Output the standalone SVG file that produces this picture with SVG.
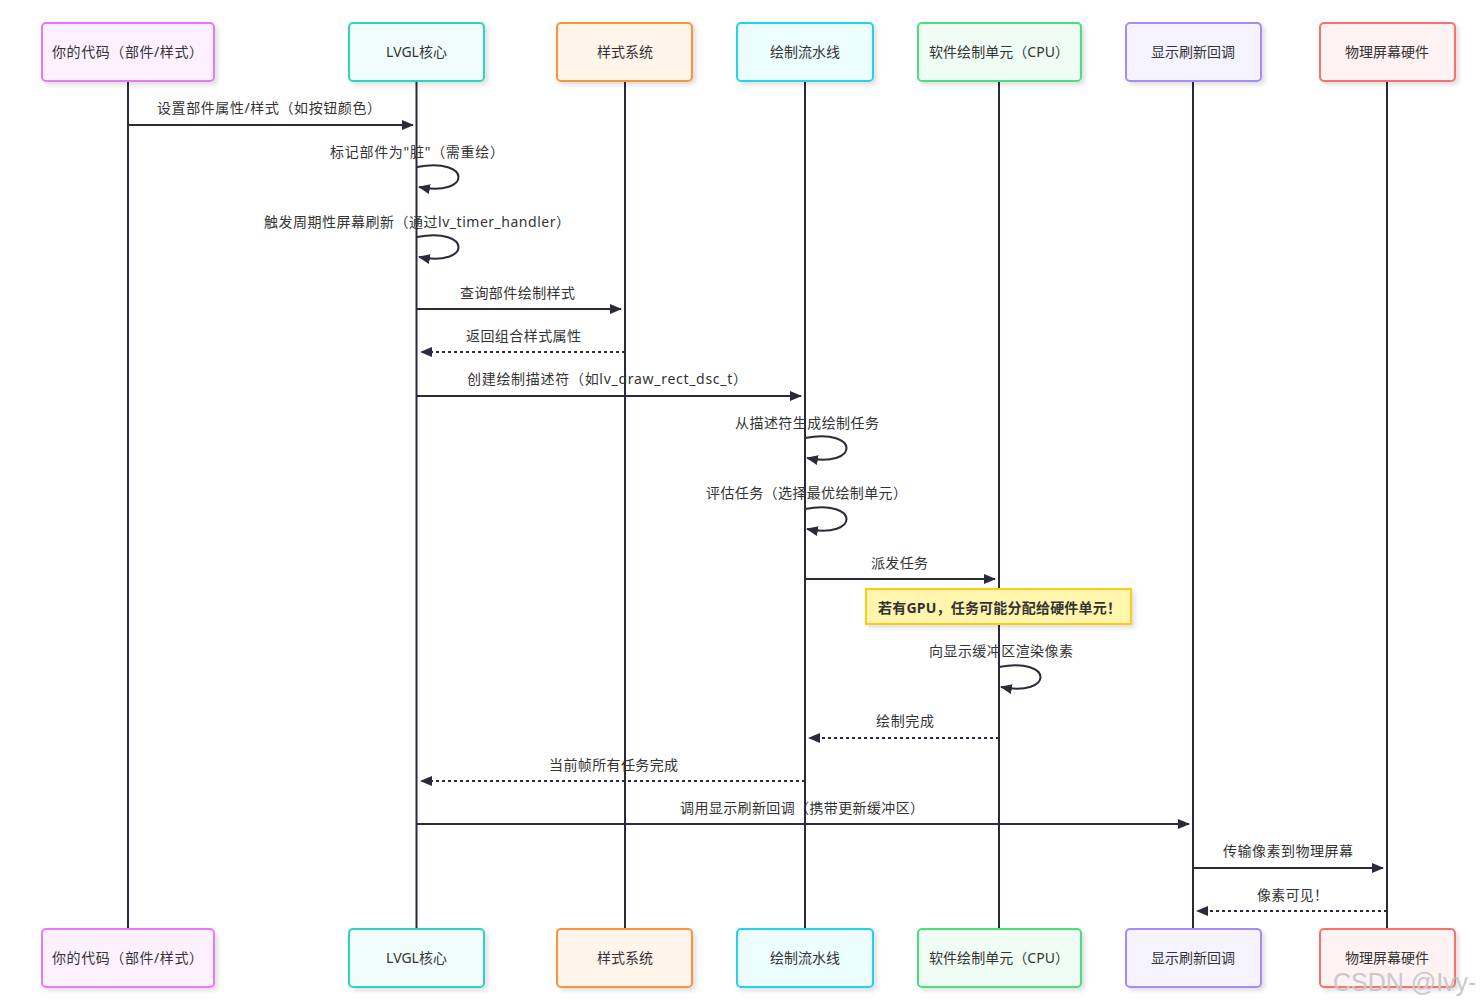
<svg xmlns="http://www.w3.org/2000/svg" width="1482" height="1008" viewBox="0 0 1482 1008">
<style>
text{font-family:"Noto Sans","Noto Sans CJK SC",sans-serif;font-size:14px;fill:#333;}
.actor text{text-anchor:middle;dominant-baseline:central;}
.actor rect{stroke-width:2;}
.life{stroke:#2b2a3c;stroke-width:2;}
.msg{stroke:#2b2a3c;stroke-width:2;fill:none;}
.dash{stroke-dasharray:3,3;}
.note text{font-weight:bold;dominant-baseline:central;}
</style>
<defs>
<marker id="ah" markerWidth="12" markerHeight="10" refX="11" refY="5" orient="auto" markerUnits="userSpaceOnUse">
<path d="M0,0 L12,5 L0,10 Z" fill="#2b2a3c"/>
</marker>
<filter id="sh" x="-10%" y="-10%" width="130%" height="140%">
<feDropShadow dx="3" dy="3" stdDeviation="2" flood-color="#000" flood-opacity="0.12"/>
</filter>
</defs>
<rect width="1482" height="1008" fill="#fff"/>
<g id="lifelines">
<line class="life" x1="128" y1="81" x2="128" y2="929"/>
<line class="life" x1="416.5" y1="81" x2="416.5" y2="929"/>
<line class="life" x1="625" y1="81" x2="625" y2="929"/>
<line class="life" x1="805" y1="81" x2="805" y2="929"/>
<line class="life" x1="999" y1="81" x2="999" y2="929"/>
<line class="life" x1="1193" y1="81" x2="1193" y2="929"/>
<line class="life" x1="1387" y1="81" x2="1387" y2="929"/>
</g>
<g id="actor-code" class="actor">
<rect x="42" y="23" width="172" height="58" rx="4" fill="#fdf0ff" stroke="#e879f9" filter="url(#sh)"/>
<text x="127.5" y="51" textLength="151" lengthAdjust="spacing">你的代码（部件/样式）</text>
<rect x="42" y="929" width="172" height="58" rx="4" fill="#fdf0ff" stroke="#e879f9" filter="url(#sh)"/>
<text x="127.5" y="957" textLength="151" lengthAdjust="spacing">你的代码（部件/样式）</text>
</g>
<g id="actor-lvgl" class="actor">
<rect x="349" y="23" width="135" height="58" rx="4" fill="#f0fdfa" stroke="#2dd4bf" filter="url(#sh)"/>
<text x="416.5" y="51">LVGL核心</text>
<rect x="349" y="929" width="135" height="58" rx="4" fill="#f0fdfa" stroke="#2dd4bf" filter="url(#sh)"/>
<text x="416.5" y="957">LVGL核心</text>
</g>
<g id="actor-style" class="actor">
<rect x="557" y="23" width="135" height="58" rx="4" fill="#fff5eb" stroke="#fb923c" filter="url(#sh)"/>
<text x="625" y="51">样式系统</text>
<rect x="557" y="929" width="135" height="58" rx="4" fill="#fff5eb" stroke="#fb923c" filter="url(#sh)"/>
<text x="625" y="957">样式系统</text>
</g>
<g id="actor-pipeline" class="actor">
<rect x="737" y="23" width="136" height="58" rx="4" fill="#ecfeff" stroke="#22d3ee" filter="url(#sh)"/>
<text x="805" y="51">绘制流水线</text>
<rect x="737" y="929" width="136" height="58" rx="4" fill="#ecfeff" stroke="#22d3ee" filter="url(#sh)"/>
<text x="805" y="957">绘制流水线</text>
</g>
<g id="actor-cpu" class="actor">
<rect x="918" y="23" width="163" height="58" rx="4" fill="#f0fdf4" stroke="#4ade80" filter="url(#sh)"/>
<text x="999" y="51" textLength="140" lengthAdjust="spacing">软件绘制单元（CPU）</text>
<rect x="918" y="929" width="163" height="58" rx="4" fill="#f0fdf4" stroke="#4ade80" filter="url(#sh)"/>
<text x="999" y="957" textLength="140" lengthAdjust="spacing">软件绘制单元（CPU）</text>
</g>
<g id="actor-flush" class="actor">
<rect x="1126" y="23" width="135" height="58" rx="4" fill="#f5f3ff" stroke="#a78bfa" filter="url(#sh)"/>
<text x="1193" y="51">显示刷新回调</text>
<rect x="1126" y="929" width="135" height="58" rx="4" fill="#f5f3ff" stroke="#a78bfa" filter="url(#sh)"/>
<text x="1193" y="957">显示刷新回调</text>
</g>
<g id="actor-screen" class="actor">
<rect x="1320" y="23" width="135" height="58" rx="4" fill="#fef2f2" stroke="#f87171" filter="url(#sh)"/>
<text x="1387" y="51">物理屏幕硬件</text>
<rect x="1320" y="929" width="135" height="58" rx="4" fill="#fef2f2" stroke="#f87171" filter="url(#sh)"/>
<text x="1387" y="957">物理屏幕硬件</text>
</g>
<g id="connectors">
<line class="msg" x1="128" y1="125" x2="413" y2="125" marker-end="url(#ah)"/>
<path class="msg" d="M417,167 C472,157 472,197 419,187" marker-end="url(#ah)"/>
<path class="msg" d="M417,237 C472,227 472,267 419,257" marker-end="url(#ah)"/>
<line class="msg" x1="417" y1="309" x2="621" y2="309" marker-end="url(#ah)"/>
<line class="msg dash" x1="625" y1="352" x2="421" y2="352" marker-end="url(#ah)"/>
<line class="msg" x1="417" y1="396" x2="801" y2="396" marker-end="url(#ah)"/>
<path class="msg" d="M805,438 C860,428 860,468 807,458" marker-end="url(#ah)"/>
<path class="msg" d="M805,509 C860,499 860,539 807,529" marker-end="url(#ah)"/>
<line class="msg" x1="805" y1="579" x2="995" y2="579" marker-end="url(#ah)"/>
<path class="msg" d="M999,667 C1054,657 1054,697 1001,687" marker-end="url(#ah)"/>
<line class="msg dash" x1="999" y1="738" x2="809" y2="738" marker-end="url(#ah)"/>
<line class="msg dash" x1="805" y1="781" x2="421" y2="781" marker-end="url(#ah)"/>
<line class="msg" x1="417" y1="824" x2="1189" y2="824" marker-end="url(#ah)"/>
<line class="msg" x1="1193" y1="868" x2="1383" y2="868" marker-end="url(#ah)"/>
<line class="msg dash" x1="1387" y1="911" x2="1197" y2="911" marker-end="url(#ah)"/>
</g>
<g id="labels">
<text x="157" y="113" textLength="224" lengthAdjust="spacing">设置部件属性/样式（如按钮颜色）</text>
<text x="330" y="157" textLength="174" lengthAdjust="spacing">标记部件为"脏"（需重绘）</text>
<text x="264" y="227" textLength="306" lengthAdjust="spacing">触发周期性屏幕刷新（通过lv_timer_handler）</text>
<text x="460" y="298" textLength="115" lengthAdjust="spacing">查询部件绘制样式</text>
<text x="466" y="341" textLength="115" lengthAdjust="spacing">返回组合样式属性</text>
<text x="467" y="384" textLength="280" lengthAdjust="spacing">创建绘制描述符（如lv_draw_rect_dsc_t）</text>
<text x="735" y="428" textLength="144" lengthAdjust="spacing">从描述符生成绘制任务</text>
<text x="706" y="498" textLength="201" lengthAdjust="spacing">评估任务（选择最优绘制单元）</text>
<text x="871" y="568" textLength="57" lengthAdjust="spacing">派发任务</text>
<text x="929" y="656" textLength="144" lengthAdjust="spacing">向显示缓冲区渲染像素</text>
<text x="876" y="726" textLength="58" lengthAdjust="spacing">绘制完成</text>
<text x="549" y="770" textLength="129" lengthAdjust="spacing">当前帧所有任务完成</text>
<text x="680" y="813" textLength="244" lengthAdjust="spacing">调用显示刷新回调（携带更新缓冲区）</text>
<text x="1223" y="856" textLength="130" lengthAdjust="spacing">传输像素到物理屏幕</text>
<text x="1257" y="900" textLength="71" lengthAdjust="spacing">像素可见！</text>
</g>
<g id="note-gpu" class="note">
<rect x="866" y="589" width="265" height="35" fill="#fff5ad" stroke="#facc15" stroke-width="2" filter="url(#sh)"/>
<text x="878" y="607" textLength="243" lengthAdjust="spacing">若有GPU，任务可能分配给硬件单元！</text>
</g>
<text x="1333" y="991" style="font-family:'Liberation Sans',sans-serif;font-size:25px;fill:#c9c9c9;">CSDN @Ivy-</text>
</svg>
